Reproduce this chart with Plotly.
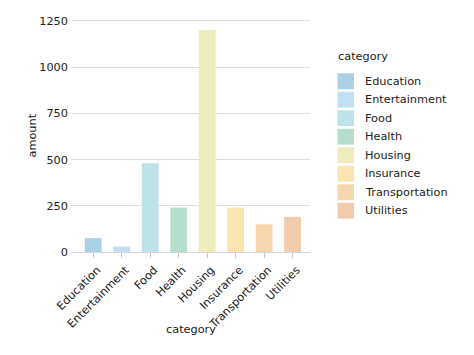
import plotly.graph_objects as go

categories = ["Education", "Entertainment", "Food", "Health", "Housing",
              "Insurance", "Transportation", "Utilities"]
amounts = [75, 30, 480, 240, 1200, 240, 150, 190]
colors = ["#abd0e6", "#c3dff3", "#bde3e8", "#b6dfcb", "#efebbb",
          "#fae5b0", "#f6d7ad", "#f0cbae"]
y_ticks = [0, 250, 500, 750, 1000, 1250]

FONT = "DejaVu Sans"
TXT = "#222222"
W, H = 474, 355
L, R, T, B = 71, 164, 19, 103

fig = go.Figure()
fig.add_trace(go.Bar(
    x=categories, y=amounts, marker=dict(color=colors, line=dict(width=0)),
    width=0.59, showlegend=False,
))

# custom legend (ggplot-style square keys)
pw = W - L - R
ph = H - T - B
def px_to_paper_x(px):
    return (px - L) / pw
def px_to_paper_y(py):
    return (H - B - py) / ph

shapes = []
annotations = []
key_x0, key_w, key_y0, key_pitch, key_h = 337.5, 16.5, 73.3, 18.5, 15.8
annotations.append(dict(
    x=px_to_paper_x(336), y=px_to_paper_y(57), xref="paper", yref="paper",
    text="category", showarrow=False, xanchor="left", yanchor="middle",
    font=dict(family=FONT, size=11.3, color=TXT)))
for i, (c, col) in enumerate(zip(categories, colors)):
    y0 = key_y0 + i * key_pitch
    shapes.append(dict(
        type="rect", xref="paper", yref="paper",
        x0=px_to_paper_x(key_x0), x1=px_to_paper_x(key_x0 + key_w),
        y0=px_to_paper_y(y0), y1=px_to_paper_y(y0 + key_h),
        fillcolor=col, line=dict(width=0)))
    annotations.append(dict(
        x=px_to_paper_x(363), y=px_to_paper_y(y0 + key_h / 2), xref="paper", yref="paper",
        text=c, showarrow=False, xanchor="left", yanchor="middle",
        font=dict(family=FONT, size=11.3, color=TXT)))

# axis titles
annotations.append(dict(
    x=0.5, y=px_to_paper_y(329), xref="paper", yref="paper", text="category",
    showarrow=False, xanchor="center", yanchor="middle",
    font=dict(family=FONT, size=11.3, color=TXT)))
annotations.append(dict(
    x=px_to_paper_x(32), y=0.5, xref="paper", yref="paper", text="amount",
    showarrow=False, xanchor="center", yanchor="middle", textangle=-90,
    font=dict(family=FONT, size=11.3, color=TXT)))

fig.update_layout(
    width=W, height=H,
    margin=dict(l=L, r=R, t=T, b=B, pad=0),
    paper_bgcolor="white", plot_bgcolor="white",
    font=dict(family=FONT, size=11.3, color=TXT),
    shapes=shapes, annotations=annotations,
    bargap=0.4,
)
fig.update_xaxes(
    type="category", range=[-0.78, 7.61], tickangle=-45,
    showgrid=False, showline=True, linecolor="#d4d4d4", linewidth=1,
    ticks="outside", ticklen=5, tickcolor="#c8c8c8", tickwidth=1,
    ticklabelshift=4, ticklabelstandoff=1,
    tickfont=dict(family=FONT, size=11.3, color=TXT),
    zeroline=False, automargin=False,
)
fig.update_yaxes(
    range=[0, 1260], tickvals=y_ticks, ticktext=[str(v) for v in y_ticks],
    showgrid=True, gridcolor="#dedede", gridwidth=1,
    showline=False, zeroline=False, ticks="", ticklabelstandoff=2,
    tickfont=dict(family=FONT, size=11.3, color=TXT), automargin=False,
)

fig.write_html("out.html", config={"displayModeBar": False},
               post_script="document.body.style.margin='0';document.body.style.padding='0';")
